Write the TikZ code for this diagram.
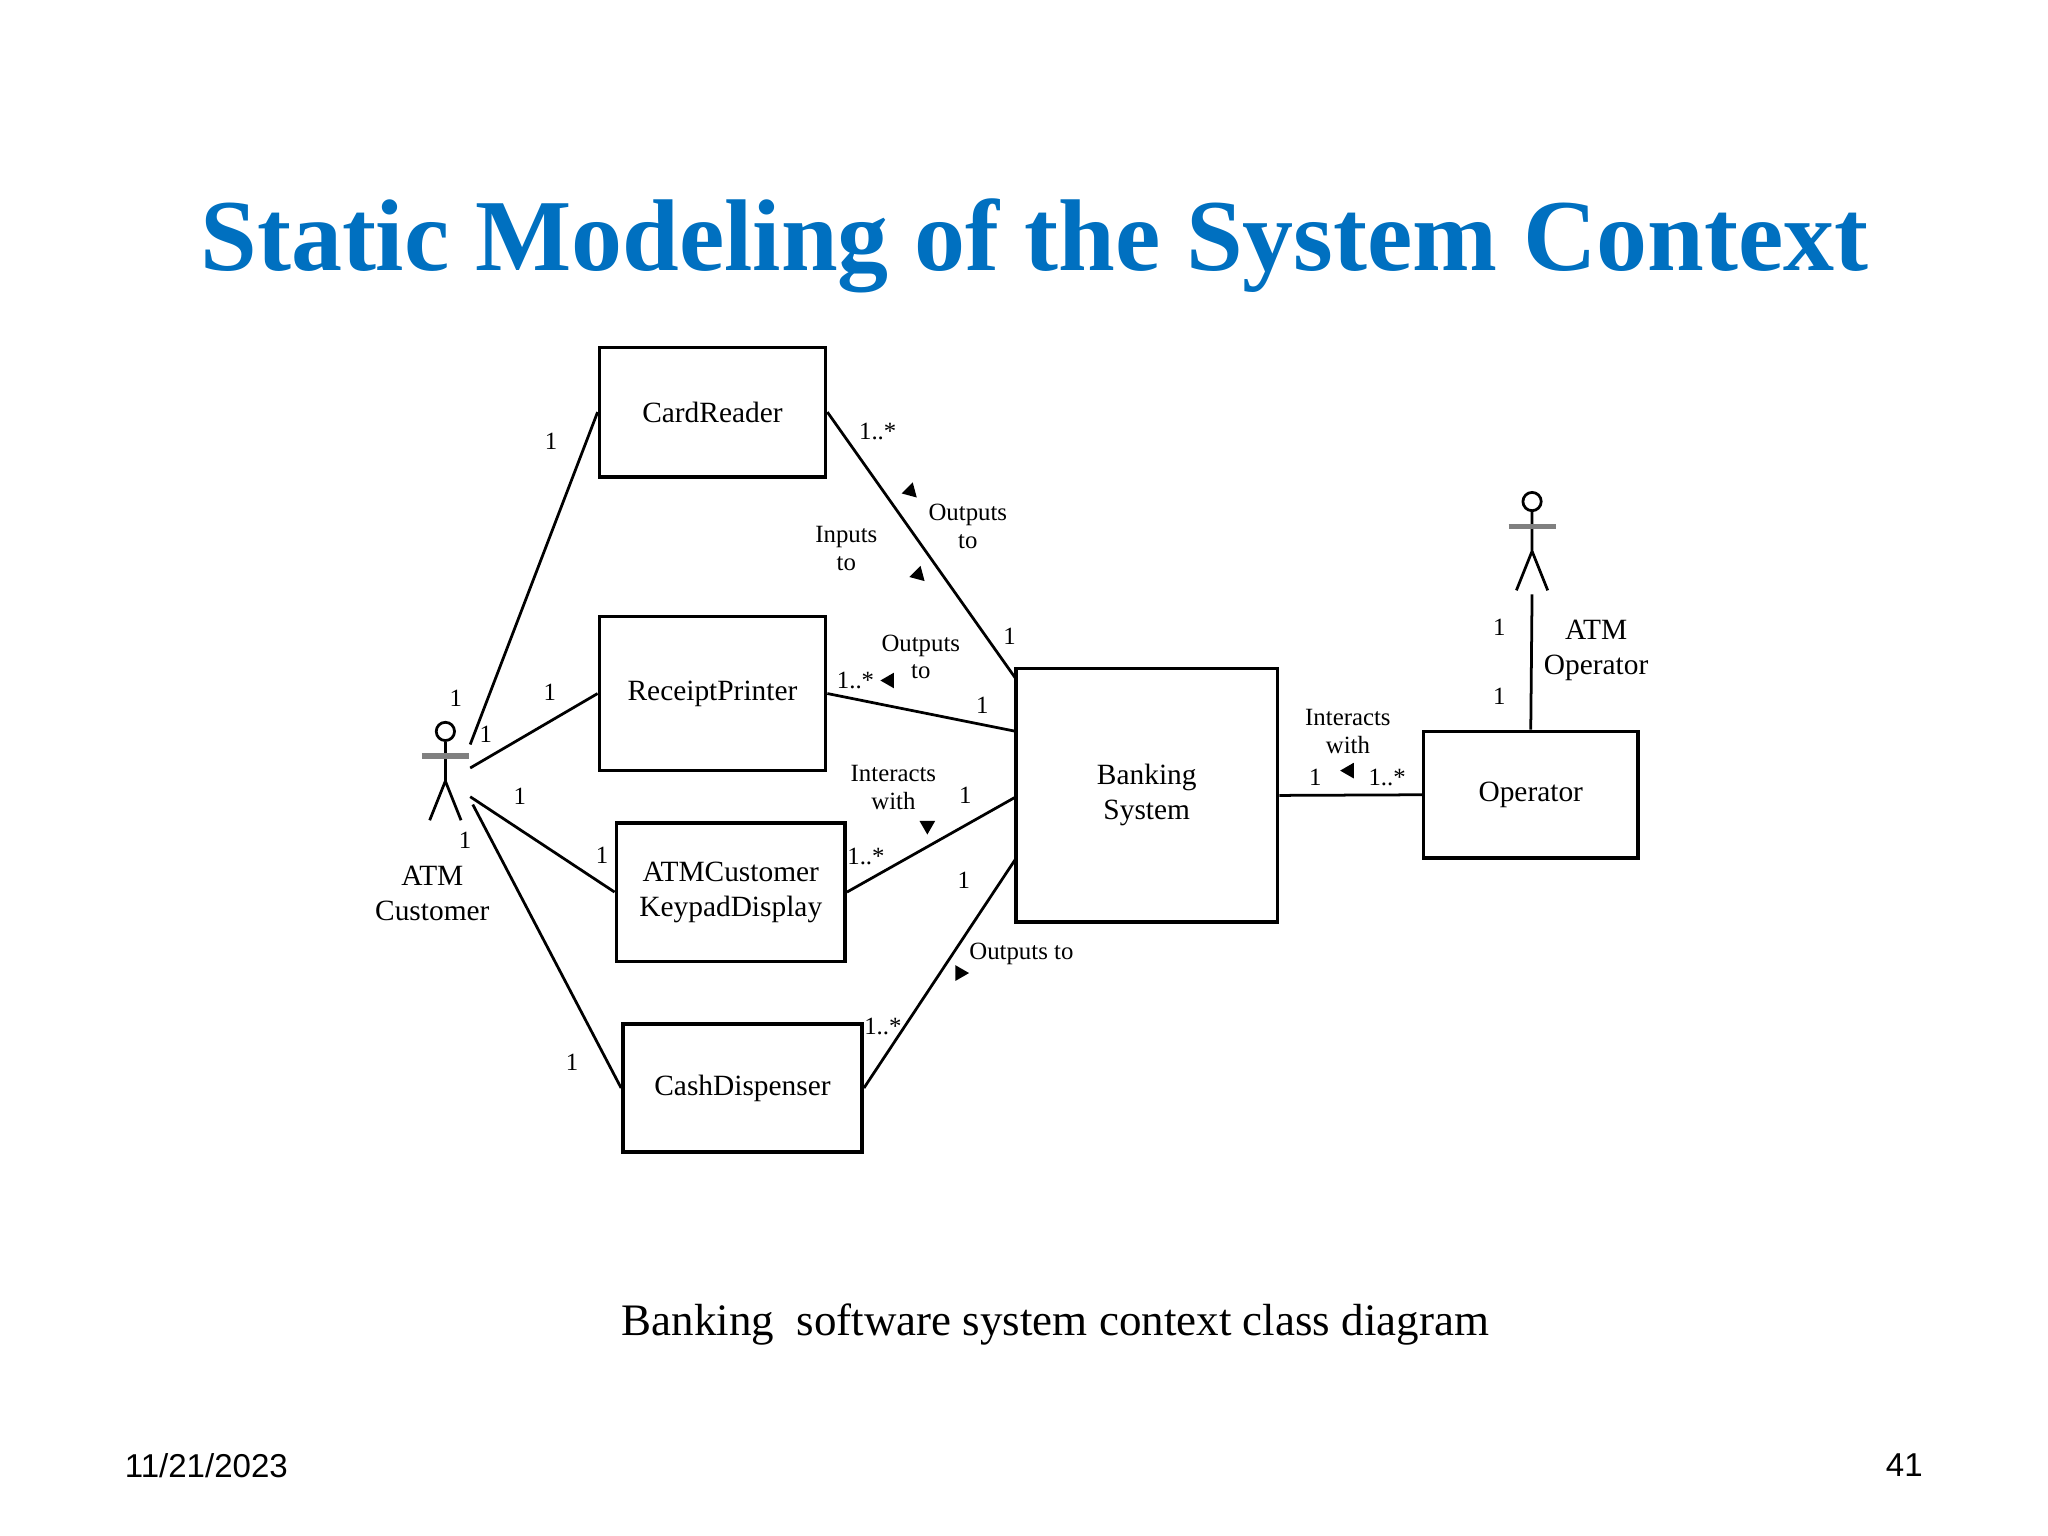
\documentclass[tikz,border=0pt]{standalone}
\usepackage{fontspec}
\setmainfont{Liberation Serif}
\newfontfamily\sans{Liberation Sans}
\usetikzlibrary{shapes.geometric}
\definecolor{titleblue}{RGB}{0,112,192}
\tikzset{
  cls/.style={draw,thick,inner sep=0pt,font=\fontsize{6.4}{7.6}\selectfont,align=center},
  lbl/.style={font=\fontsize{5.4}{6}\selectfont,align=center,inner sep=0pt},
  dir/.style={isosceles triangle,fill=black,inner sep=0pt,minimum height=0.1cm,minimum width=0.12cm,isosceles triangle apex angle=60},
  assoc/.style={semithick}
}
\newcommand{\stickman}[2]{%
  \draw[semithick] (#1,#2) circle[radius=7];
  \draw[semithick] (#1,#2+8) -- (#1,#2+38) (#1-12,#2+68) -- (#1,#2+38) -- (#1+12,#2+68);
  \draw[line width=1.2pt,gray] (#1-18,#2+19) -- (#1+18,#2+19);}
\begin{document}
\begin{tikzpicture}[x=0.01cm,y=-0.01cm]
\useasboundingbox (0,0) rectangle (1568,1176);
% title
\node[font=\fontsize{22.2}{25}\selectfont\bfseries,text=titleblue] (title) at (792,188) {Static Modeling of the System Context};

% classes
\node[cls,minimum width=1.73cm,minimum height=0.99cm] (card) at (545.5,315.5) {CardReader};
\node[cls,minimum width=1.73cm,minimum height=1.18cm] (printer) at (545.5,531) {ReceiptPrinter};
\node[cls,minimum width=1.75cm,minimum height=1.06cm] (keypad) at (559.5,683) {ATMCustomer\\KeypadDisplay};
\node[cls,minimum width=1.83cm,minimum height=0.98cm] (cash) at (568.5,833) {CashDispenser};
\node[cls,minimum width=2.00cm,minimum height=1.94cm] (bank) at (878,609) {Banking\\System};
\node[cls,minimum width=1.64cm,minimum height=0.97cm] (oper) at (1172,608.5) {Operator};

% actors
\stickman{341}{560}
\stickman{1173}{384}
\node[lbl,font=\fontsize{6.4}{7.6}\selectfont] (custlbl) at (331,684) {ATM\\Customer};
\node[lbl,font=\fontsize{6.4}{7.6}\selectfont] (operlbl) at (1222,498) {ATM\\Operator};
\coordinate (c1) at (360,570);
\coordinate (c2) at (360,588);
\coordinate (c3) at (360,610);
\coordinate (c4) at (362,616);
\coordinate (o1) at (1173,455);

% associations
\draw[assoc] (c1) -- (card.west);
\draw[assoc] (c2) -- (printer.west);
\draw[assoc] (c3) -- (keypad.west);
\draw[assoc] (c4) -- (cash.west);
\draw[assoc] (card.east) -- (778,520);
\draw[assoc] (printer.east) -- (778,560);
\draw[assoc] (keypad.east) -- (778,610);
\draw[assoc] (cash.east) -- (778,657);
\draw[assoc] (bank.east) -- (oper.west);
\draw[assoc] (oper.north) -- (o1);

% multiplicities
\foreach \x/\y/\t in {422/338/1, 349/535/1, 372/562/1, 421/530/1, 398/610/1, 461/655/1,
  438/813/1, 356/643/1, 672/330/{1..*}, 773/487/1, 655/521/{1..*}, 752/540/1,
  663/656/{1..*}, 739/609/1, 676/786/{1..*}, 738/674/1, 1007/595/1, 1062/595/{1..*},
  1148/480/1, 1148/533/1}
  \node[lbl] at (\x,\y) {\t};

% association names
\node[lbl] (n1) at (741,403) {Outputs\\to};
\node[lbl] (n2) at (648,420) {Inputs\\to};
\node[lbl] (n3) at (705,503) {Outputs\\to};
\node[lbl] (n4) at (684,603) {Interacts\\with};
\node[lbl] (n5) at (782,730) {Outputs to};
\node[lbl] (n6) at (1032,560) {Interacts\\with};

% direction arrows
\node[dir,rotate=-45] at (697,376) {};
\node[dir,rotate=-45] at (703,440) {};
\node[dir,rotate=180] at (681,521) {};
\node[dir,rotate=-90] at (710,632) {};
\node[dir,rotate=0] at (735,745) {};
\node[dir,rotate=180] at (1033,590) {};

% caption and footer
\node[font=\fontsize{9.8}{11}\selectfont] (cap) at (808,1014) {Banking\ \ software system context class diagram};
\node[font=\sans\fontsize{7.2}{8}\selectfont] (date) at (158,1122) {11/21/2023};
\node[font=\sans\fontsize{7.2}{8}\selectfont] (page) at (1458,1122) {41};
\end{tikzpicture}
\end{document}
